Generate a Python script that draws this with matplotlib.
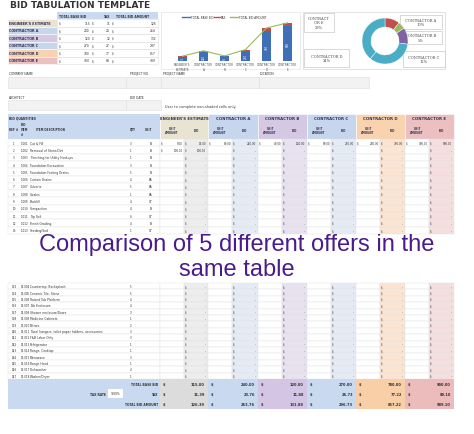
import matplotlib.pyplot as plt
from matplotlib.patches import Rectangle

contractors = ["ENGINEER'S ESTIMATE", "CONTRACTOR A", "CONTRACTOR B", "CONTRACTOR C", "CONTRACTOR D", "CONTRACTOR E"]
base_bid = [115, 240, 120, 270, 780, 900]
tax = [11.39, 23.76, 11.88, 26.73, 77.22, 89.10]
total_bid = [126.39, 263.76, 131.88, 296.73, 857.22, 989.10]
unit_amount = [5.00, 80.00, 40.00, 90.00, 260.00, 300.00]
bar_labels = ["ENGINEER'S\nESTIMATE", "CONTRACTOR\nA", "CONTRACTOR\nB", "CONTRACTOR\nC", "CONTRACTOR\nD", "CONTRACTOR\nE"]
pie_labels = ["CONTRACTOR A\n10%", "CONTRACTOR B\n5%", "CONTRACTOR C\n12%", "CONTRACTOR D\n34%", "CONTRACT\nOR E\n39%"]
top_items = ["Cut & Fill", "Removal of Stone/Dirt", "Trenching for Utility Hookups", "Foundation Excavation",
             "Foundation Footing Drains", "Curtain Drains", "Culverts", "Swales", "Backfill", "Compaction",
             "Top Soil", "Finish Grading", "Seeding/Sod"]
top_qty = [3, 1, 1, 3, 5, 4, 5, 1, 4, 4, 6, 4, 1]
top_unit = ["LS", "LS", "LS", "LS", "LS", "EA", "EA", "EA", "CY", "LS", "CY", "LS", "CY"]
bottom_items = ["Countertop, Backsplash", "Ceramic Tile, Stone", "Raised Tub Platform", "Tub Enclosure",
                "Shower enclosure/Doors", "Medicine Cabinets", "Mirrors", "Towel hangers, toilet paper holders, accessories",
                "F&B Labor Only", "Refrigerator", "Range, Cooktop", "Microwave", "Range Hood", "Dishwasher", "Washer/Dryer"]
bottom_ref = list(range(133, 148))
bottom_qty = [5, 5, 4, 4, 3, 1, 2, 3, 3, 1, 1, 3, 1, 4, 1]

head_cols = ["#e9e4d2", "#c6d6ec", "#d5c8e2", "#c6d6ec", "#f9d2b0", "#ecc0c0"]
cell_cols = ["#ededed", "#e4ebf5", "#e8e1f0", "#e4ebf5", "#fbe5d2", "#f5dede"]
blue = "#c9daf0"

fig = plt.figure(figsize=(4.74, 4.35), dpi=100)
ax = fig.add_axes([0, 0, 1, 1])
ax.set_xlim(0, 474)
ax.set_ylim(435, 0)
ax.axis("off")

def box(x, y, w, h, fc, ec="#d0d0d0", lw=0.4):
    ax.add_patch(Rectangle((x, y), w, h, facecolor=fc, edgecolor=ec, linewidth=lw))

def txt(x, y, s, size=2.2, ha="left", **kw):
    ax.text(x, y, s, fontsize=size, ha=ha, va="center", color=kw.pop("color", "#333333"), **kw)

# title + summary table
txt(10, 6, "BID TABULATION TEMPLATE", size=6.5, weight="bold", color="#333333")
box(57, 13, 101, 7, blue, ec="none")
txt(59, 16.5, "TOTAL BASE BID", weight="bold")
txt(104, 16.5, "TAX", weight="bold")
txt(116, 16.5, "TOTAL BID AMOUNT", weight="bold")
for i, name in enumerate(contractors):
    y = 20 + i * 7.5
    box(8, y, 49, 7.5, head_cols[i], ec="white")
    box(57, y, 101, 7.5, "white", ec="#dddddd")
    txt(9, y + 3.7, name, size=2.4, weight="bold", color="#333355")
    txt(59, y + 3.7, "$")
    txt(90, y + 3.7, f"{base_bid[i]:.0f}", ha="right")
    txt(92, y + 3.7, "$")
    txt(110, y + 3.7, f"{tax[i]:.0f}", ha="right")
    txt(112, y + 3.7, "$")
    txt(156, y + 3.7, f"{total_bid[i]:.0f}", ha="right")

# bar chart panel
box(161, 13, 139, 57, "white", ec="#dddddd")
bx = fig.add_axes([172 / 474, 1 - 62 / 435, 126 / 474, 40 / 435])
xs = range(len(base_bid))
bx.bar(xs, base_bid, width=0.45, color="#3f70b5")
bx.bar(xs, tax, bottom=base_bid, width=0.45, color="#c0504d")
bx.plot(xs, total_bid, color="#9bbb59", lw=0.8)
for i, v in enumerate(base_bid):
    bx.text(i, v / 2, f"{v}", rotation=90, fontsize=2, color="white", ha="center", va="center")
bx.set_xticks(list(xs))
bx.set_xticklabels(bar_labels, fontsize=2, color="#555555")
bx.tick_params(length=0, pad=1)
bx.set_yticks([])
bx.set_xlim(-0.5, 5.5)
for s in bx.spines.values():
    s.set_visible(False)
ax.plot([182, 190], [18, 18], color="#3f70b5", lw=1)
txt(191, 18, "TOTAL BASE BID", size=2)
ax.plot([214, 220], [18, 18], color="#c0504d", lw=1)
txt(221, 18, "TAX", size=2)
ax.plot([230, 238], [18, 18], color="#9bbb59", lw=1)
txt(239, 18, "TOTAL BID AMOUNT", size=2)

# donut panel
box(303, 13, 142, 57, "white", ec="#cccccc")
px = fig.add_axes([360 / 474, 1 - 67 / 435, 50 / 474, 50 / 435])
px.pie(total_bid[1:], colors=["#c0504d", "#9bbb59", "#8064a2", "#4bacc6", "#4bacc6"], startangle=90,
       counterclock=False, radius=1.15, wedgeprops=dict(width=0.45, edgecolor="white", linewidth=0.3))
px.set_aspect("equal")
lab_pos = [(400, 16, 42, 14), (400, 32, 42, 13), (403, 52, 42, 16), (304, 50, 45, 18), (304, 14, 30, 19)]
for (x, y, w, h), s in zip(lab_pos, pie_labels):
    box(x, y, w, h, "white", ec="#bbbbbb")
    ax.text(x + w / 2, y + h / 2, s, fontsize=2.6, ha="center", va="center", color="#444444", family="serif")

# project fields
txt(9, 74, "COMPANY NAME")
txt(130, 74, "PROJECT NO.")
txt(163, 74, "PROJECT NAME")
txt(260, 74, "LOCATION")
box(8, 78, 118, 11, "#f2f2f2", ec="#dddddd")
box(126, 78, 35, 11, "#f2f2f2", ec="#dddddd")
box(161, 78, 98, 11, "#f2f2f2", ec="#dddddd")
box(259, 78, 110, 11, "#f2f2f2", ec="#dddddd")
txt(9, 98, "ARCHITECT")
txt(130, 98, "BID DATE")
box(8, 101, 118, 10, "#f2f2f2", ec="#dddddd")
box(126, 101, 35, 10, "#f2f2f2", ec="#dddddd")
txt(165, 107, "User to complete non-shaded cells only.", size=2.5)

# big table header
cols = [160, 208, 258, 307, 356, 405, 454]
box(8, 115, 152, 25, blue, ec="none")
txt(9, 118.5, "BID QUANTITIES", weight="bold")
for j, lab, x in [(0, "REF #", 9), (1, "BID\nITEM\n#", 21), (2, "ITEM DESCRIPTION", 36), (3, "QTY", 130), (4, "UNIT", 145)]:
    txt(x, 130, lab, size=2, weight="bold")
for k in range(6):
    x0, x1 = cols[k], cols[k + 1]
    box(x0, 115, x1 - x0, 25, head_cols[k], ec="white")
    ax.text((x0 + x1) / 2, 118.5, contractors[k], fontsize=2.8, ha="center", va="center", weight="bold", color="#333355")
    ax.text(x0 + 12, 131, "UNIT\nAMOUNT", fontsize=2, ha="center", va="center", weight="bold", color="#333355")
    ax.text(x0 + 36, 131, "BID", fontsize=2, ha="center", va="center", weight="bold", color="#333355")

def item_rows(y0, rh, refs, codes, items, qtys, units, first=False):
    for r in range(len(items)):
        y = y0 + r * rh
        box(8, y, 152, rh, "white", ec="#e2e2e2", lw=0.3)
        txt(14, y + rh / 2, str(refs[r]), size=2, ha="center")
        txt(21, y + rh / 2, codes[r], size=2)
        txt(30, y + rh / 2, items[r], size=2.2)
        txt(131, y + rh / 2, str(qtys[r]), size=2, ha="center")
        if units:
            txt(151, y + rh / 2, units[r], size=2, ha="center")
        for k in range(6):
            x0 = cols[k]
            box(x0, y, 24, rh, "white", ec="#e2e2e2", lw=0.3)
            box(x0 + 24, y, cols[k + 1] - x0 - 24, rh, cell_cols[k], ec="#e2e2e2", lw=0.3)
            txt(x0 + 25, y + rh / 2, "$", size=2)
            val = "-"
            if first and r == 0:
                txt(x0 + 1, y + rh / 2, "$", size=2)
                txt(x0 + 23, y + rh / 2, f"{unit_amount[k]:.2f}", size=2, ha="right")
                val = f"{base_bid[k] if k else 15:.2f}"
            if first and r == 1 and k == 0:
                txt(x0 + 1, y + rh / 2, "$", size=2)
                txt(x0 + 23, y + rh / 2, "100.00", size=2, ha="right")
                val = "100.00"
            txt(cols[k + 1] - 2, y + rh / 2, val, size=2, ha="right")

item_rows(140, 7.3, list(range(1, 14)), [f"1.{i:03d}" for i in range(1, 14)], top_items, top_qty, top_unit, first=True)
item_rows(284, 6.4, bottom_ref, [f"15.{i:03d}" for i in range(4, 19)], bottom_items, bottom_qty, None)

# totals
box(8, 380, 152, 30, blue, ec="none")
txt(158, 385, "TOTAL BASE BID", size=2.2, ha="right", weight="bold")
txt(106, 395, "TAX RATE", size=2.2, ha="right", weight="bold")
box(108, 390, 15, 9, "white", ec="none")
txt(115.5, 394.5, "9.90%", size=2.2, ha="center")
txt(158, 395, "TAX", size=2.2, ha="right", weight="bold")
txt(158, 405, "TOTAL BID AMOUNT", size=2.2, ha="right", weight="bold")
tot_cols = ["#dcdcdc", blue, "#d3c5e3", blue, "#f9cfa8", "#ecbcbc"]
for k in range(6):
    x0, x1 = cols[k], cols[k + 1]
    box(x0, 380, x1 - x0, 30, tot_cols[k], ec="none")
    for y, v in [(385, base_bid[k]), (395, tax[k]), (405, total_bid[k])]:
        txt(x0 + 3, y, "$", size=2.6, weight="bold")
        txt(x1 - 3, y, f"{v:.2f}", size=2.6, ha="right", weight="bold")

# overlay caption
box(0, 236, 474, 47, "white", ec="none")
ax.text(237, 245, "Comparison of 5 different offers in the", fontsize=17, ha="center", va="center",
        color="#4a1b8c", family="Liberation Sans")
ax.text(237, 270, "same table", fontsize=17, ha="center", va="center", color="#4a1b8c", family="Liberation Sans")

fig.savefig("out.png", dpi=100)
